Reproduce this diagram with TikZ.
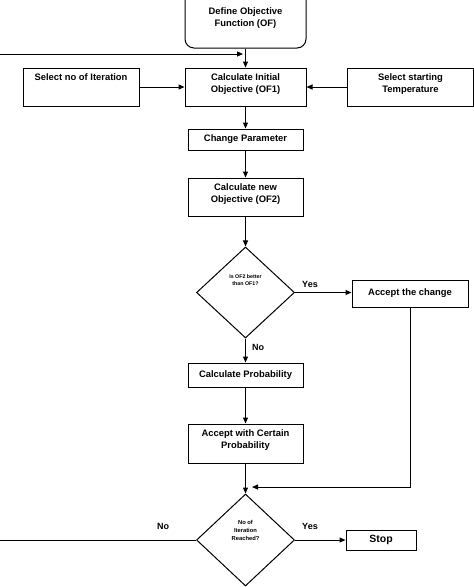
\documentclass[tikz,border=0pt]{standalone}
\usepackage{fontspec}
\setmainfont{Liberation Sans}
\usetikzlibrary{arrows.meta,shapes.geometric}
\begin{document}
\begin{tikzpicture}[x=1pt,y=-1pt,
  line width=1pt,
  arr/.style={-{Triangle[length=6pt,width=5pt]}},
  boxfont/.style={font=\bfseries\fontsize{9.4}{12}\selectfont},
  box/.style={draw,rectangle,boxfont,align=center,inner sep=1pt},
  twoline/.style={box,text depth=8pt},
  dia/.style={draw,diamond,inner sep=0pt,align=center,aspect=1.07},
  lbl/.style={font=\bfseries\fontsize{9}{11}\selectfont}
]
\useasboundingbox (0,0) rectangle (474,587);
\clip (0,0) rectangle (474,587);

\node[box,text depth=3pt,rounded corners=9pt,minimum width=121pt,minimum height=58pt] (def) at (245.5,19) {Define Objective\\Function (OF)};
\node[twoline,minimum width=121pt,minimum height=38pt] (init) at (245.5,87) {Calculate Initial\\Objective (OF1)};
\node[twoline,minimum width=116pt,minimum height=38pt] (iter) at (81,87) {Select no of Iteration\\\mbox{}};
\node[twoline,minimum width=126pt,minimum height=38pt] (temp) at (410.5,87) {Select starting\\Temperature};
\node[box,minimum width=115pt,minimum height=21pt] (chg) at (245.5,139.5) {Change Parameter};
\node[twoline,minimum width=115pt,minimum height=38pt] (new) at (245.5,197) {Calculate new\\Objective (OF2)};
\node[dia,minimum width=98pt,minimum height=91pt,font=\bfseries\fontsize{5.3}{7}\selectfont,text depth=24pt] (d1) at (245.5,292.5) {Is OF2 better\\than OF1?};
\node[box,minimum width=116pt,minimum height=27pt] (acc) at (410,293.5) {Accept the change};
\node[box,minimum width=115pt,minimum height=24pt] (prob) at (245.5,375) {Calculate Probability};
\node[twoline,minimum width=115pt,minimum height=39pt] (cert) at (245.5,443.5) {Accept with Certain\\Probability};
\node[dia,minimum width=98pt,minimum height=92pt,font=\bfseries\fontsize{5.8}{8}\selectfont,text depth=19pt] (d2) at (245.5,540) {No of\\Iteration\\Reached?};
\node[box,minimum width=70pt,minimum height=20pt,font=\bfseries\fontsize{10.5}{12}\selectfont] (stop) at (381,540) {Stop};

\node[lbl] (yes1) at (310,284) {Yes};
\node[lbl] (no1) at (258,347) {No};
\node[lbl] (no2) at (163,526) {No};
\node[lbl] (yes2) at (310,526) {Yes};

\coordinate (inL) at (0,54);
\coordinate (inR) at (243,54);
\coordinate (j2) at (252,487);
\coordinate (outL) at (0,540);

\draw[arr] (inL) -- (inR);
\draw[arr] (def) -- (init);
\draw[arr] (iter) -- (init);
\draw[arr] (temp) -- (init);
\draw[arr] (init) -- (chg);
\draw[arr] (chg) -- (new);
\draw[arr] (new) -- (d1);
\draw[arr] (d1.east) -- (acc.west |- d1.east);
\draw[arr] (d1) -- (prob);
\draw[arr] (prob) -- (cert);
\draw[arr] (cert) -- (d2);
\draw[arr] (acc.south) |- (j2);
\draw (d2.west) -- (outL);
\draw[arr] (d2.east) -- (stop.west);
\end{tikzpicture}
\end{document}
